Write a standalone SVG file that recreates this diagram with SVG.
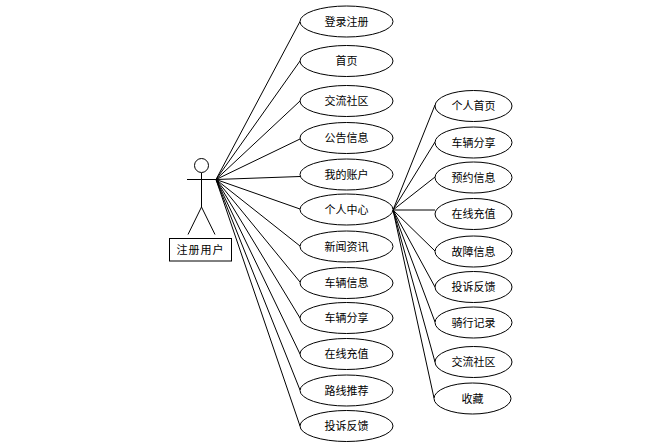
<svg xmlns="http://www.w3.org/2000/svg" width="667" height="445" viewBox="0 0 667 445">
<style>
.b{fill:#fff;stroke:#000;stroke-width:1}
.l{fill:none;stroke:#000;stroke-width:1}
text{font-family:"Noto Sans CJK SC","Liberation Sans",sans-serif;font-size:11px;fill:#000;text-anchor:middle}
</style>
<rect width="667" height="445" fill="#fff"/>
<g id="connectors" class="l">
<line x1="216" y1="179.500" x2="300" y2="21.500"/>
<line x1="216" y1="179.500" x2="300" y2="61"/>
<line x1="216" y1="179.500" x2="300" y2="101"/>
<line x1="216" y1="179.500" x2="300" y2="139"/>
<line x1="216" y1="179.500" x2="300" y2="176.500"/>
<line x1="216" y1="179.500" x2="300" y2="209"/>
<line x1="216" y1="179.500" x2="300" y2="246"/>
<line x1="216" y1="179.500" x2="300" y2="282"/>
<line x1="216" y1="179.500" x2="300" y2="318"/>
<line x1="216" y1="179.500" x2="300" y2="354"/>
<line x1="216" y1="179.500" x2="300" y2="390"/>
<line x1="216" y1="179.500" x2="300" y2="426"/>
<line x1="393" y1="210" x2="435" y2="105"/>
<line x1="393" y1="210" x2="435" y2="142"/>
<line x1="393" y1="210" x2="435" y2="177"/>
<line x1="393" y1="210" x2="435" y2="210"/>
<line x1="393" y1="210" x2="435" y2="251"/>
<line x1="393" y1="210" x2="435" y2="287"/>
<line x1="393" y1="210" x2="435" y2="322"/>
<line x1="393" y1="210" x2="435" y2="362"/>
<line x1="393" y1="210" x2="434" y2="398"/>
</g>
<g id="actor" class="l">
<circle cx="201.500" cy="165.500" r="7"/>
<line x1="201.500" y1="173" x2="201.500" y2="207"/>
<line x1="187" y1="179.500" x2="216" y2="179.500"/>
<line x1="201.500" y1="207" x2="188" y2="234.500"/>
<line x1="201.500" y1="207" x2="215" y2="234.500"/>
</g>
<g id="actor-label"><rect class="b" x="169.500" y="238.500" width="62" height="22.500"/><text x="200.500" y="254" style="letter-spacing:1px">注册用户</text></g>
<g id="n1"><ellipse class="b" cx="346.500" cy="21.500" rx="46.500" ry="15.500"/><text x="346.500" y="25.500">登录注册</text></g>
<g id="n2"><ellipse class="b" cx="346.500" cy="61" rx="46.500" ry="15.500"/><text x="346.500" y="65">首页</text></g>
<g id="n3"><ellipse class="b" cx="346.500" cy="101" rx="46.500" ry="15.500"/><text x="346.500" y="105">交流社区</text></g>
<g id="n4"><ellipse class="b" cx="346.500" cy="138" rx="46.500" ry="15.500"/><text x="346.500" y="142">公告信息</text></g>
<g id="n5"><ellipse class="b" cx="346.500" cy="174.500" rx="46.500" ry="15.500"/><text x="346.500" y="178.500">我的账户</text></g>
<g id="n6"><ellipse class="b" cx="346.500" cy="209.500" rx="46.500" ry="15.500"/><text x="346.500" y="213.500">个人中心</text></g>
<g id="n7"><ellipse class="b" cx="346.500" cy="246.500" rx="46.500" ry="15.500"/><text x="346.500" y="250.500">新闻资讯</text></g>
<g id="n8"><ellipse class="b" cx="346.500" cy="283" rx="46.500" ry="15.500"/><text x="346.500" y="287">车辆信息</text></g>
<g id="n9"><ellipse class="b" cx="346.500" cy="318" rx="46.500" ry="15.500"/><text x="346.500" y="322">车辆分享</text></g>
<g id="n10"><ellipse class="b" cx="346.500" cy="354" rx="46.500" ry="15.500"/><text x="346.500" y="358">在线充值</text></g>
<g id="n11"><ellipse class="b" cx="346.500" cy="390.500" rx="46.500" ry="15.500"/><text x="346.500" y="394.500">路线推荐</text></g>
<g id="n12"><ellipse class="b" cx="346.500" cy="426" rx="46.500" ry="15.500"/><text x="346.500" y="430">投诉反馈</text></g>
<g id="m1"><ellipse class="b" cx="473.500" cy="106" rx="38.500" ry="15.500"/><text x="473.500" y="110">个人首页</text></g>
<g id="m2"><ellipse class="b" cx="473.500" cy="142.500" rx="38.500" ry="15.500"/><text x="473.500" y="146.500">车辆分享</text></g>
<g id="m3"><ellipse class="b" cx="473.500" cy="177.500" rx="38.500" ry="15.500"/><text x="473.500" y="181.500">预约信息</text></g>
<g id="m4"><ellipse class="b" cx="473.500" cy="214" rx="38.500" ry="15.500"/><text x="473.500" y="218">在线充值</text></g>
<g id="m5"><ellipse class="b" cx="473.500" cy="251.500" rx="38.500" ry="15.500"/><text x="473.500" y="255.500">故障信息</text></g>
<g id="m6"><ellipse class="b" cx="473.500" cy="287" rx="38.500" ry="15.500"/><text x="473.500" y="291">投诉反馈</text></g>
<g id="m7"><ellipse class="b" cx="473.500" cy="322.500" rx="38.500" ry="15.500"/><text x="473.500" y="326.500">骑行记录</text></g>
<g id="m8"><ellipse class="b" cx="473.500" cy="362" rx="38.500" ry="15.500"/><text x="473.500" y="366">交流社区</text></g>
<g id="m9"><ellipse class="b" cx="472.500" cy="398.500" rx="38.500" ry="15.500"/><text x="472.500" y="402.500">收藏</text></g>
</svg>
